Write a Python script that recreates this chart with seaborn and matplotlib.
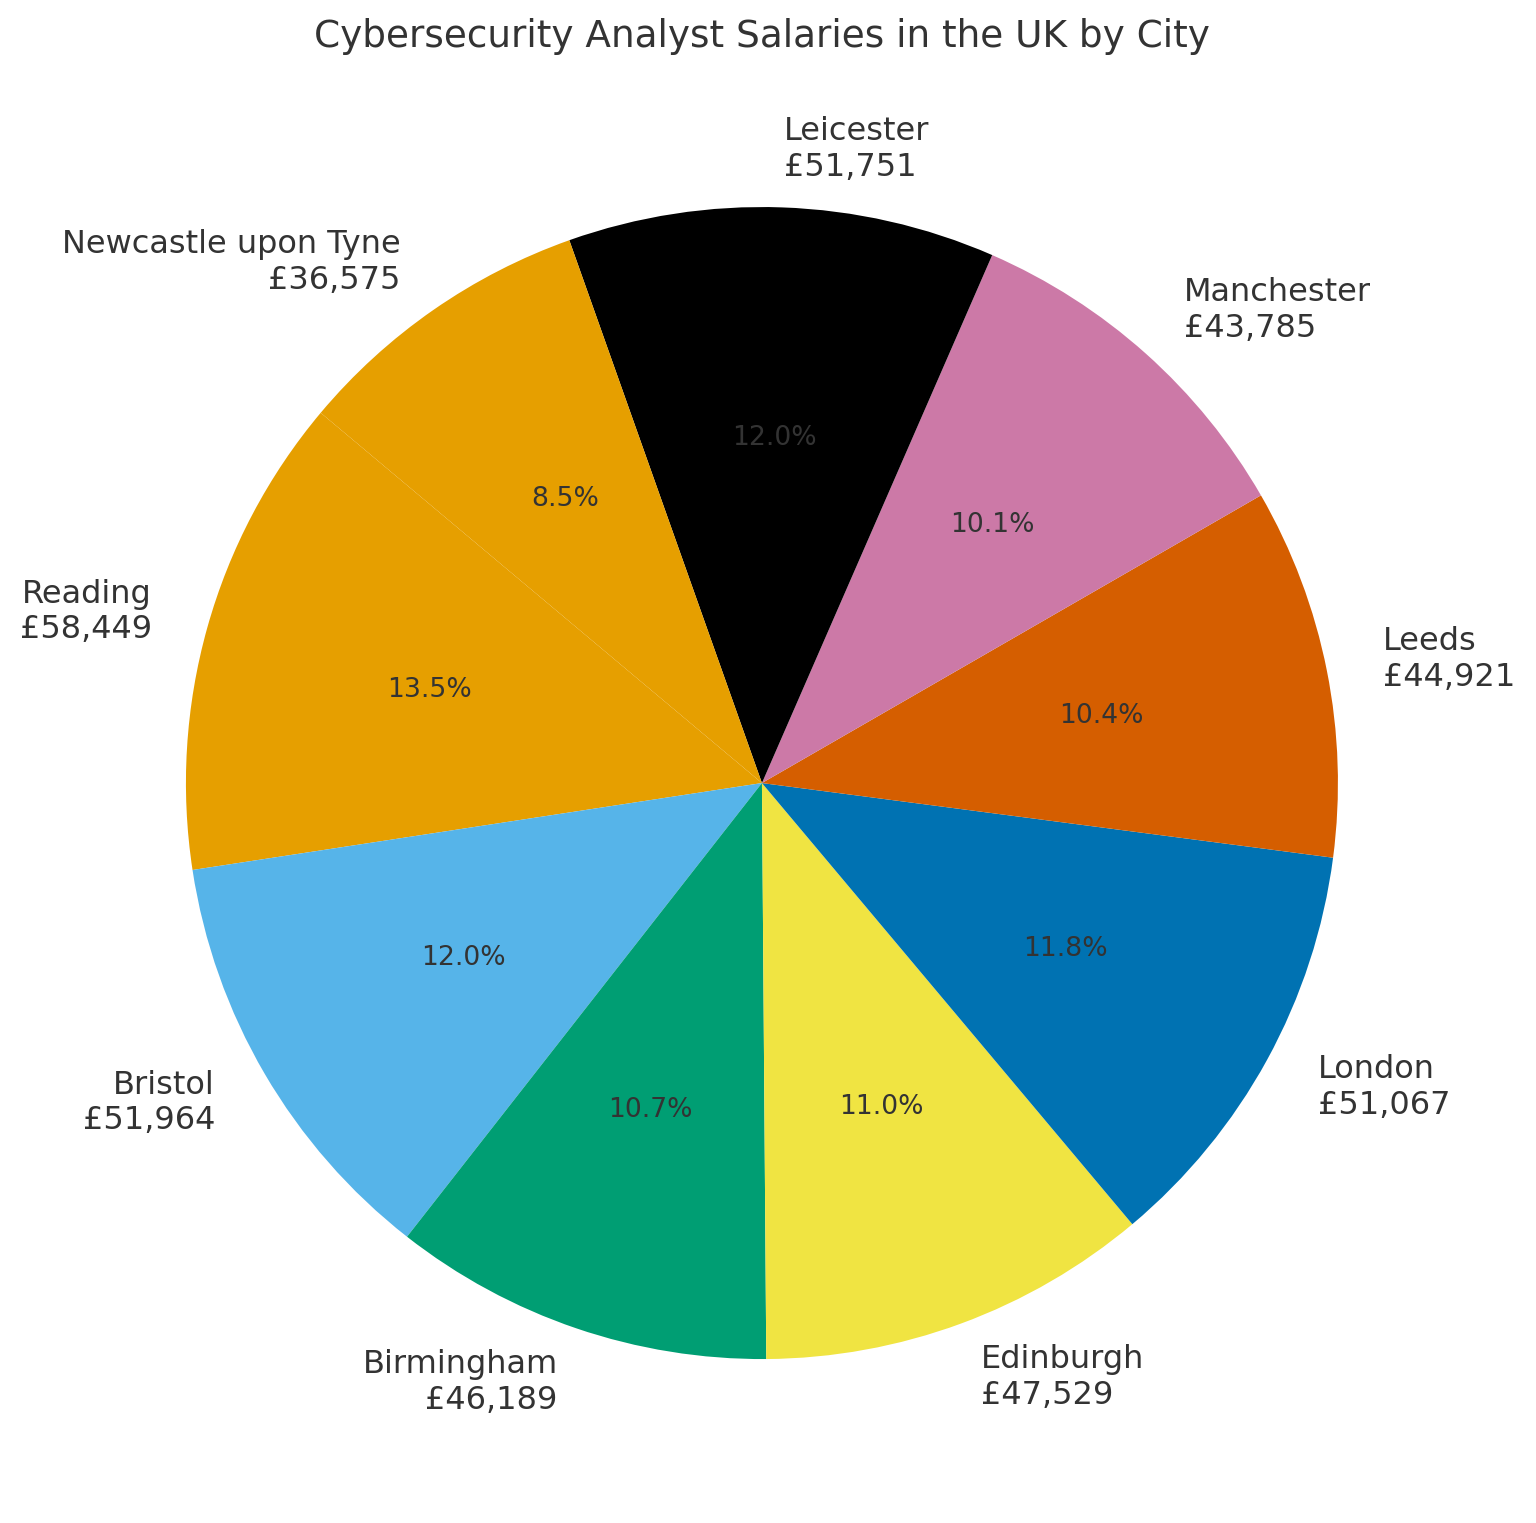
import matplotlib
matplotlib.use("Agg")
import matplotlib.pyplot as plt
import seaborn as sns

cities = ["Reading", "Bristol", "Birmingham", "Edinburgh", "London",
          "Leeds", "Manchester", "Leicester", "Newcastle upon Tyne"]
salaries = [58449, 51964, 46189, 47529, 51067, 44921, 43785, 51751, 36575]
palette_hex = ["#E69F00", "#56B4E9", "#009E73", "#F0E442", "#0072B2",
               "#D55E00", "#CC79A7", "#000000"]

sns.set_theme(style="white")
plt.rcParams['font.family'] = ['DejaVu Sans']
plt.rcParams['text.color'] = '#333333'

colors = [palette_hex[i % len(palette_hex)] for i in range(len(cities))]
labels = [f"{c}\n£{s:,}" for c, s in zip(cities, salaries)]

DPI = 192
fig = plt.figure(figsize=(1536 / DPI, 1523 / DPI), dpi=DPI)
ax = fig.add_axes([0.0273, 0.0131, 0.9375, 0.9455])
wedges, texts, autotexts = ax.pie(
    salaries, labels=labels, colors=colors, autopct="%1.1f%%",
    startangle=140, counterclock=True,
    wedgeprops={"linewidth": 0, "edgecolor": "none"},
    textprops={"color": "#333333", "fontsize": 12},
)
for t in autotexts:
    t.set_fontsize(10)
    t.set_color("#333333")
ax.set_aspect("equal")
ax.set_title("Cybersecurity Analyst Salaries in the UK by City",
             fontsize=14, color="#333333", pad=6)
fig.savefig("out.png", dpi=DPI, facecolor="white")
